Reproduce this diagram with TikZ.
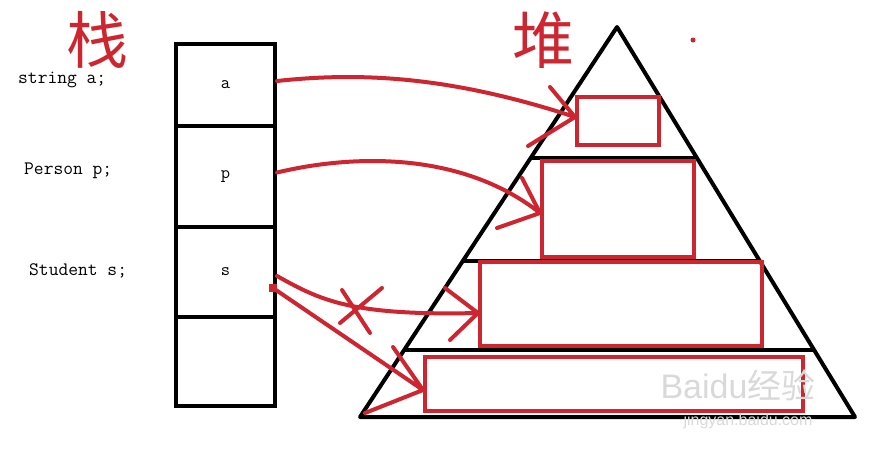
\documentclass[tikz,border=0pt]{standalone}
\usepackage{fontspec}
\usetikzlibrary{calc}
\newfontfamily\cjk{Noto Sans CJK SC}
\newfontfamily\wmfont{Liberation Sans}
\definecolor{penred}{RGB}{206,38,48}

\tikzset{
  cell/.style={draw,line width=4pt,minimum width=99pt,inner sep=0pt,font=\fontsize{18}{20}\ttfamily},
  decl/.style={anchor=west,inner sep=0pt,font=\fontsize{19}{21}\ttfamily},
  heapbox/.style={draw=penred,line width=4pt,inner sep=0pt},
  pen/.style={penred,line width=4pt,line cap=round,line join=round},
  hand/.style={penred,inner sep=0pt,font=\cjk\fontsize{62}{62}\selectfont}
}

\begin{document}
\begin{tikzpicture}[x=1pt,y=-1pt]
			\useasboundingbox (0,0) rectangle (875,448);
			% titles
			\node(zhan) at (97,40)[hand]{栈};
			\node(dui) at (543,40)[hand]{堆};
			\fill[penred] (693,40) circle (2.5pt);
			
			% stack
			\node(decla) at (18,80)[decl]{string a;};
			\node(declp) at (24,171)[decl]{Person p;};
			\node(decls) at (29,271)[decl]{Student s;};
			\node(a) at (225.5,85)[cell,minimum height=82pt]{a};
			\node(p) at (225.5,176.5)[cell,minimum height=101pt]{p};
			\node(s) at (225.5,272)[cell,minimum height=90pt]{s};
			\node(e) at (225.5,361.5)[cell,minimum height=89pt]{};
			
			% heap
			\coordinate(top) at (617,27);
			\coordinate(bl) at (360,417);
			\coordinate(br) at (855,417);
			\draw[line width=4pt,line join=round] (top) -- (br) -- (bl) -- cycle;
			\foreach \f in {0.336,0.6,0.828}
				\draw[line width=4pt] ($(top)!\f!(bl)$) -- ($(top)!\f!(br)$);
			\node(h1) at (618,121)[heapbox,minimum width=82pt,minimum height=48pt]{};
			\node(h2) at (618,209)[heapbox,minimum width=152pt,minimum height=96pt]{};
			\node(h3) at (621,304)[heapbox,minimum width=282pt,minimum height=84pt]{};
			\node(h4) at (614,384)[heapbox,minimum width=378pt,minimum height=54pt]{};
			
			% references
			\draw[pen] ([yshift=4pt]a.east) .. controls (360,72) and (450,76) .. ([yshift=4pt]h1.west) -- +(-25,-30) ([yshift=4pt]h1.west) -- +(-47,29);
			\draw[pen] ([yshift=4pt]p.east) .. controls (350,155) and (460,150) .. ([yshift=-4pt]h2.west) -- +(-18,-35) ([yshift=-4pt]h2.west) -- +(-43,15);
			\draw[pen] ([yshift=-4pt]s.east) .. controls (320,300) and (350,316) .. ([yshift=-9pt]h3.west) -- +(-33,-25) ([yshift=-9pt]h3.west) -- +(-28,27);
			\coordinate(cross) at (356,310);
			\draw[pen] ($(cross)+(-16,13)$) -- ($(cross)+(26,-22)$) ($(cross)+(-14,-20)$) -- ($(cross)+(14,23)$);
			\fill[penred] (269,284) rectangle (277,292);
			\draw[pen] (273,288) -- ([yshift=-6pt]h4.west) -- +(-30,-43) ([yshift=-6pt]h4.west) -- +(-58,23);
			
			% watermark
			\node(wm) at (738,385)[text=black!15,inner sep=0pt,font=\wmfont\fontsize{34}{34}\selectfont]{Baidu\cjk 经验};
			\node(wmurl) at (748,421)[text=black!15,inner sep=0pt,font=\wmfont\fontsize{16}{16}\selectfont]{jingyan.baidu.com};
		\end{tikzpicture}
\end{document}
